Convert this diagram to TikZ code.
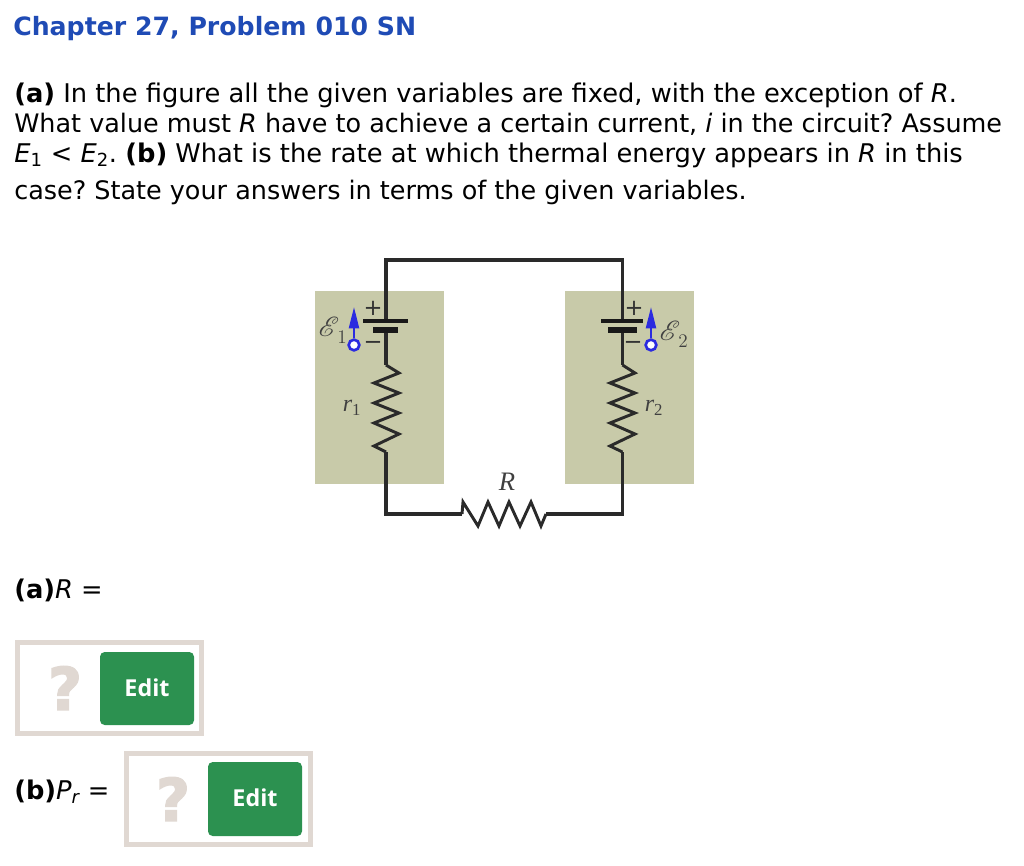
\documentclass[tikz,border=0pt]{standalone}
\usepackage{amsmath}
\usepackage{mathrsfs}
\usepackage{xcolor}
\usepackage{fontspec}
\setmainfont{DejaVu Sans}
\newfontfamily\editfont{Open Sans}
\newfontfamily\serifont{Liberation Serif}
\newfontfamily\qfont[FakeBold=2.5]{DejaVu Sans}
\usetikzlibrary{arrows.meta, positioning}
\definecolor{panelcol}{HTML}{C8CAA9}
\definecolor{titlecol}{HTML}{1F4BB5}
\definecolor{boxcol}{HTML}{E0D8D2}
\definecolor{editcol}{HTML}{2C9150}
\definecolor{emfcol}{HTML}{2B2BE0}
\definecolor{wirecol}{HTML}{2A2A2A}
\frenchspacing

\begin{document}
\begin{tikzpicture}[x=0.75pt, y=-0.75pt]
% Styles
    \tikzstyle{textline} = [anchor=base west, inner sep=0pt, font=\fontsize{19.3pt}{20pt}\selectfont]
    \tikzstyle{narrowline} = [textline, font=\fontsize{19.1pt}{20pt}\selectfont]
    \tikzstyle{titleline} = [textline, text=titlecol, font=\fontsize{18.9pt}{20pt}\selectfont\bfseries]
    \tikzstyle{panel} = [rectangle, fill=panelcol, minimum width=96.75pt, minimum height=144.75pt, inner sep=0pt]
    \tikzstyle{wire} = [draw=wirecol, line width=2.2pt, line join=miter]
    \tikzstyle{straightwire} = [wire, line width=2.7pt]
    \tikzstyle{plate} = [draw=black!90, line width=3pt]
    \tikzstyle{thickplate} = [draw=black!90, line width=4.5pt]
    \tikzstyle{sign} = [inner sep=0pt, text=black!80, font=\fontsize{17pt}{17pt}\selectfont]
    \tikzstyle{label} = [inner sep=0pt, text=black!75, font=\serifont\fontsize{18pt}{18pt}\selectfont]
    \tikzstyle{emflabel} = [label, font=\fontsize{20pt}{20pt}\selectfont]
    \tikzstyle{emf} = [draw=emfcol, line width=1.6pt, -{Triangle[length=16pt, width=7.5pt]}]
    \tikzstyle{emfdot} = [circle, draw=emfcol, fill=white, line width=2pt, minimum size=8pt, inner sep=0pt]
    \tikzstyle{answerbox} = [rectangle, draw=boxcol, line width=3.75pt, fill=white, minimum width=138pt, minimum height=68pt, inner sep=0pt]
    \tikzstyle{editbtn} = [rectangle, fill=editcol, rounded corners=3.5pt, text=white, inner sep=0pt, font=\editfont\bfseries\fontsize{17.5pt}{17.5pt}\selectfont]
    \tikzstyle{qmark} = [inner sep=0pt, text=boxcol, font=\qfont\bfseries\fontsize{44pt}{44pt}\selectfont]

    \useasboundingbox (0,0) rectangle (1024,865);

    % Texte de la question
    \node [titleline] (title) at (13,35) {Chapter 27, Problem 010 SN};
    \node [textline] (line1) at (14,102) {\textbf{(a)} In the figure all the given variables are fixed, with the exception of \textit{R}.};
    \node [narrowline] (line2) at (14,132) {What value must \textit{R} have to achieve a certain current, \textit{i} in the circuit? Assume};
    \node [textline] (line3) at (14,162) {\textit{E}\textsubscript{1} < \textit{E}\textsubscript{2}. \textbf{(b)} What is the rate at which thermal energy appears in \textit{R} in this};
    \node [narrowline] (line4) at (14,199) {case? State your answers in terms of the given variables.};

    % Panneaux
    \node [panel] (panelone) at (379.5,387.5) {};
    \node [panel] (paneltwo) at (629.5,387.5) {};

    % Points du circuit
    \coordinate (topl) at (386,260);
    \coordinate (topr) at (622.5,260);
    \coordinate (plateonea) at (386,321);
    \coordinate (plateoneb) at (386,330);
    \coordinate (rones) at (386,365);
    \coordinate (ronee) at (386,452);
    \coordinate (botl) at (386,514);
    \coordinate (botr) at (622.5,514);
    \coordinate (platetwoa) at (622.5,321);
    \coordinate (platetwob) at (622.5,330);
    \coordinate (rtwos) at (622.5,365);
    \coordinate (rtwoe) at (622.5,452);
    \coordinate (rs) at (462,514);
    \coordinate (re) at (546,514);

    % Fils
    \path [straightwire] (plateonea) -- (topl) -- (topr) -- (platetwoa);
    \path [straightwire] (plateoneb) -- (rones);
    \path [straightwire] (platetwob) -- (rtwos);
    \path [straightwire] (ronee) -- (botl) -- (rs);
    \path [straightwire] (re) -- (botr) -- (rtwoe);

    % Résistances
    \path [wire] (rones) -- (399,373) -- (374,383) -- (399,393) -- (374,403) -- (399,413) -- (374,423) -- (399,434) -- (374,446) -- (ronee);
    \path [wire] (rtwos) -- (635,373) -- (610,383) -- (635,393) -- (610,403) -- (635,413) -- (610,423) -- (635,434) -- (610,446) -- (rtwoe);
    \path [wire] (rs) -- (463,502) -- (478,526) -- (488,502) -- (499,526) -- (509,502) -- (520,526) -- (531,502) -- (541,526) -- (re);

    % Plaques
    \path [plate] (363,321) -- (408,321);
    \path [thickplate] (373,330) -- (398,330);
    \path [plate] (601,321) -- (643,321);
    \path [thickplate] (608,330) -- (637,330);

    % Signes
    \node [sign] (plusone) at (373,308) {+};
    \node [sign] (minusone) at (373,345) {\textminus};
    \node [sign] (plustwo) at (634,308) {+};
    \node [sign] (minustwo) at (633,345) {\textminus};

    % Flèches
    \node [emfdot] (dotone) at (354,345) {};
    \coordinate (tipone) at (354,307);
    \path [emf] (dotone) -- (tipone);
    \node [emfdot] (dottwo) at (651,345) {};
    \coordinate (tiptwo) at (651,307);
    \path [emf] (dottwo) -- (tiptwo);

    % Étiquettes du circuit
    \node [emflabel] (emfone) at (333,330) {$\mathscr{E}_{\,\lower2pt\hbox{$\scriptstyle 1$}}$};
    \node [emflabel] (emftwo) at (674,334) {$\mathscr{E}_{\,\lower2pt\hbox{$\scriptstyle 2$}}$};
    \node [label] (rone) at (352,408) {\textit{r}\textsubscript{1}};
    \node [label] (rtwo) at (654,408) {\textit{r}\textsubscript{2}};
    \node [label] (rlabel) at (507,482) {\fontsize{20pt}{20pt}\selectfont\textit{R}};

    % Réponses
    \node [textline] (ansa) at (14,598) {\textbf{(a)}\textit{R} =};
    \node [answerbox] (boxa) at (109.5,688) {};
    \node [qmark] (qa) at (65,688) {?};
    \node [editbtn, minimum width=70.5pt, minimum height=54.75pt] (edita) at (147,688.5) {\raisebox{1.5pt}{Edit}};
    \node [textline] (ansb) at (14,799) {\textbf{(b)}\textit{P\textsubscript{r}} =};
    \node [answerbox] (boxb) at (218,799) {};
    \node [qmark] (qb) at (173,799) {?};
    \node [editbtn, minimum width=70.5pt, minimum height=55.5pt] (editb) at (255,799) {\raisebox{1.5pt}{Edit}};
\end{tikzpicture}
\end{document}
